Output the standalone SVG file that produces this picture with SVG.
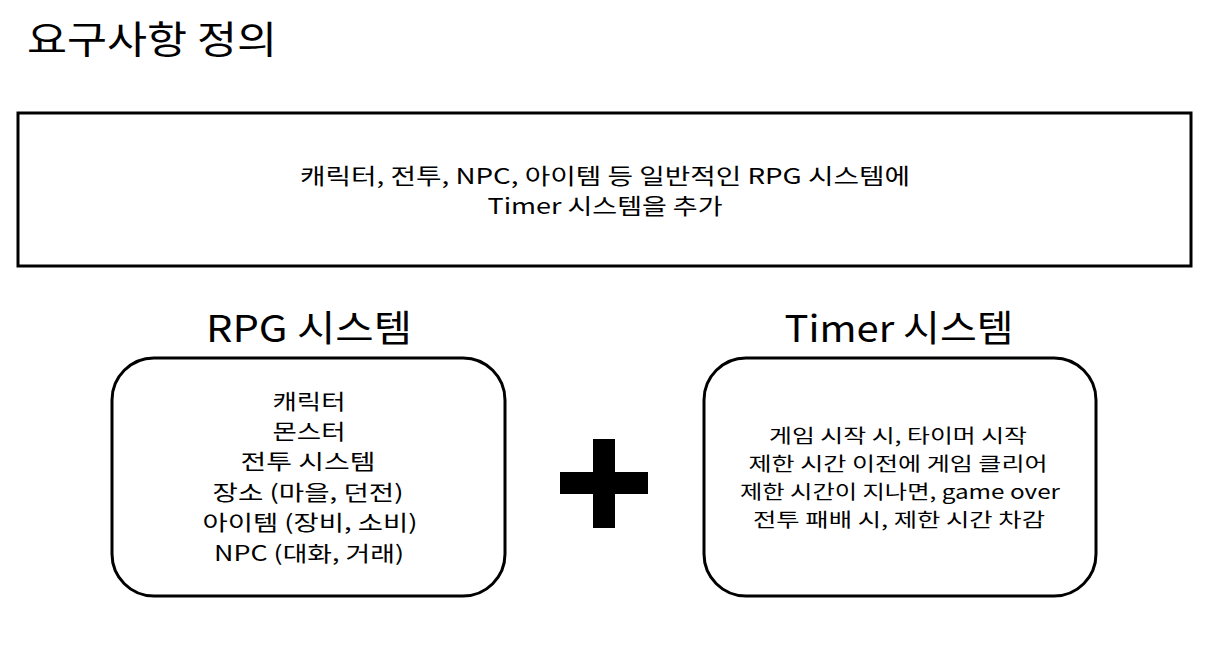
<svg xmlns="http://www.w3.org/2000/svg" width="1217" height="647" viewBox="0 0 1217 647">
<style>
text{font-family:"Noto Sans CJK KR","Noto Sans",sans-serif;fill:#000;text-anchor:middle}
.box{fill:#fff;stroke:#000;stroke-width:3}
.title{font-size:38px}
.head{font-size:37px}
.t22{font-size:22px}
.t23{font-size:21px}
.t20{font-size:19px}
</style>
<rect width="1217" height="647" fill="#fff"/>
<g id="title"><text class="title" x="27" y="53" style="text-anchor:start" textLength="250" lengthAdjust="spacingAndGlyphs">요구사항 정의</text></g>
<g id="summary">
<rect class="box" x="18" y="113" width="1173" height="153"/>
<text class="t22" x="605" y="184" textLength="610" lengthAdjust="spacingAndGlyphs">캐릭터, 전투, NPC, 아이템 등 일반적인 RPG 시스템에</text>
<text class="t22" x="605" y="214" textLength="235" lengthAdjust="spacingAndGlyphs">Timer 시스템을 추가</text>
</g>
<g id="rpg">
<text class="head" x="309" y="342" textLength="206" lengthAdjust="spacingAndGlyphs">RPG 시스템</text>
<rect class="box" x="112" y="358" width="393" height="238" rx="42"/>
<text class="t23" x="309" y="409" textLength="73" lengthAdjust="spacingAndGlyphs">캐릭터</text>
<text class="t23" x="309" y="439" textLength="73" lengthAdjust="spacingAndGlyphs">몬스터</text>
<text class="t23" x="308" y="469" textLength="135" lengthAdjust="spacingAndGlyphs">전투 시스템</text>
<text class="t23" x="308" y="500" textLength="191" lengthAdjust="spacingAndGlyphs">장소 (마을, 던전)</text>
<text class="t23" x="310" y="530" textLength="215" lengthAdjust="spacingAndGlyphs">아이템 (장비, 소비)</text>
<text class="t23" x="309" y="561" textLength="190" lengthAdjust="spacingAndGlyphs">NPC (대화, 거래)</text>
</g>
<g id="timer">
<text class="head" x="899" y="342" textLength="229" lengthAdjust="spacingAndGlyphs">Timer 시스템</text>
<rect class="box" x="704" y="358" width="392" height="238" rx="42"/>
<text class="t20" x="898" y="443" textLength="258" lengthAdjust="spacingAndGlyphs">게임 시작 시, 타이머 시작</text>
<text class="t20" x="898" y="471" textLength="299" lengthAdjust="spacingAndGlyphs">제한 시간 이전에 게임 클리어</text>
<text class="t20" x="900" y="499" textLength="320" lengthAdjust="spacingAndGlyphs">제한 시간이 지나면, game over</text>
<text class="t20" x="899" y="527" textLength="292" lengthAdjust="spacingAndGlyphs">전투 패배 시, 제한 시간 차감</text>
</g>
<g id="connectors">
<path d="M593 439H615V472H648V494H615V528H593V494H560V472H593Z" fill="#000"/>
</g>
</svg>
